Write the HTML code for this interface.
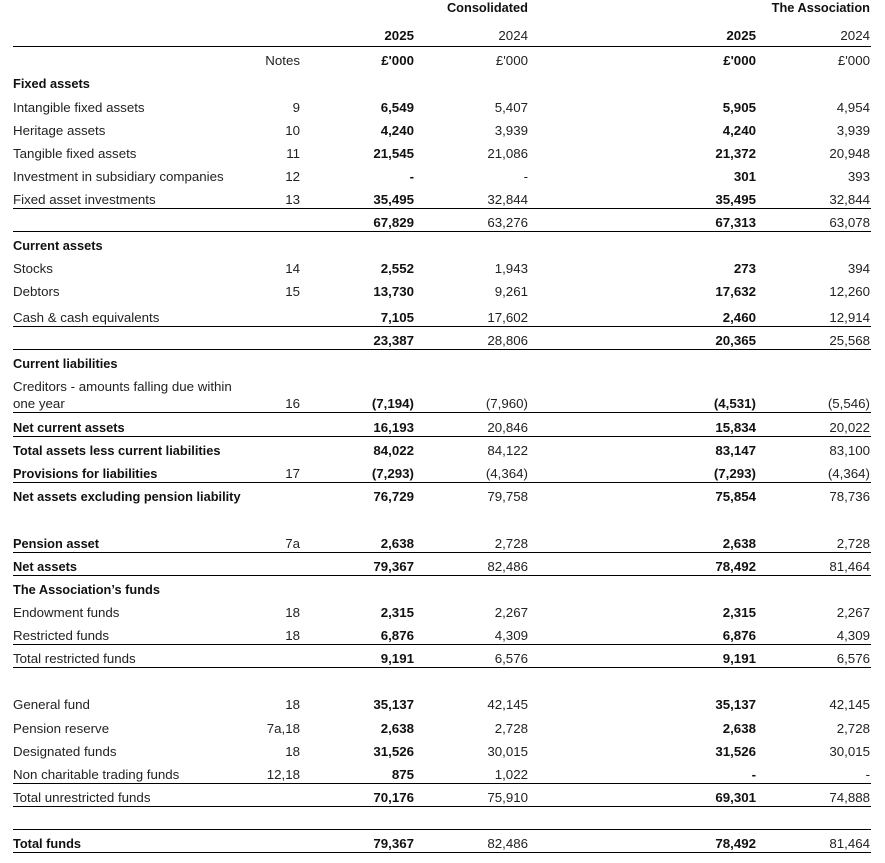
<!DOCTYPE html>
<html>
<head>
<meta charset="utf-8">
<style>
html,body{margin:0;padding:0;background:#fff;}
body{width:885px;height:863px;position:relative;overflow:hidden;font-family:"Liberation Sans",Arial,sans-serif;font-size:13.3px;color:#222;}
.r{position:absolute;left:0;width:885px;height:16px;line-height:16px;margin-top:1px;}
.r span{position:absolute;top:0;white-space:nowrap;}
.l{left:13px;}
.n{right:585px;}
.a{right:471px;font-weight:bold;color:#111;}
.b{right:357px;}
.c{right:129px;font-weight:bold;color:#111;}
.d{right:15px;}
.B{font-weight:bold;color:#111;font-size:12.8px;}
.h{position:absolute;left:13px;width:858px;height:0;border-top:1.2px solid #000;}
</style>
</head>
<body>
<div class="r" style="top:-1px"><span class="b B">Consolidated</span><span class="d B">The Association</span></div>
<div class="r" style="top:27px"><span class="a">2025</span><span class="b">2024</span><span class="c">2025</span><span class="d">2024</span></div>
<div class="h" style="top:46px"></div>
<div class="r" style="top:52px"><span class="n">Notes</span><span class="a">£'000</span><span class="b">£'000</span><span class="c">£'000</span><span class="d">£'000</span></div>
<div class="r" style="top:75px"><span class="l B">Fixed assets</span></div>
<div class="r" style="top:99px"><span class="l">Intangible fixed assets</span><span class="n">9</span><span class="a">6,549</span><span class="b">5,407</span><span class="c">5,905</span><span class="d">4,954</span></div>
<div class="r" style="top:122px"><span class="l">Heritage assets</span><span class="n">10</span><span class="a">4,240</span><span class="b">3,939</span><span class="c">4,240</span><span class="d">3,939</span></div>
<div class="r" style="top:145px"><span class="l">Tangible fixed assets</span><span class="n">11</span><span class="a">21,545</span><span class="b">21,086</span><span class="c">21,372</span><span class="d">20,948</span></div>
<div class="r" style="top:168px"><span class="l">Investment in subsidiary companies</span><span class="n">12</span><span class="a">-</span><span class="b">-</span><span class="c">301</span><span class="d">393</span></div>
<div class="r" style="top:191px"><span class="l">Fixed asset investments</span><span class="n">13</span><span class="a">35,495</span><span class="b">32,844</span><span class="c">35,495</span><span class="d">32,844</span></div>
<div class="h" style="top:208px"></div>
<div class="r" style="top:214px"><span class="a">67,829</span><span class="b">63,276</span><span class="c">67,313</span><span class="d">63,078</span></div>
<div class="h" style="top:231px"></div>
<div class="r" style="top:237px"><span class="l B">Current assets</span></div>
<div class="r" style="top:260px"><span class="l">Stocks</span><span class="n">14</span><span class="a">2,552</span><span class="b">1,943</span><span class="c">273</span><span class="d">394</span></div>
<div class="r" style="top:283px"><span class="l">Debtors</span><span class="n">15</span><span class="a">13,730</span><span class="b">9,261</span><span class="c">17,632</span><span class="d">12,260</span></div>
<div class="r" style="top:309px"><span class="l">Cash &amp; cash equivalents</span><span class="a">7,105</span><span class="b">17,602</span><span class="c">2,460</span><span class="d">12,914</span></div>
<div class="h" style="top:326px"></div>
<div class="r" style="top:332px"><span class="a">23,387</span><span class="b">28,806</span><span class="c">20,365</span><span class="d">25,568</span></div>
<div class="h" style="top:349px"></div>
<div class="r" style="top:355px"><span class="l B">Current liabilities</span></div>
<div class="r" style="top:378px"><span class="l">Creditors - amounts falling due within</span></div>
<div class="r" style="top:395px"><span class="l">one year</span><span class="n">16</span><span class="a">(7,194)</span><span class="b">(7,960)</span><span class="c">(4,531)</span><span class="d">(5,546)</span></div>
<div class="h" style="top:412px"></div>
<div class="r" style="top:419px"><span class="l B">Net current assets</span><span class="a">16,193</span><span class="b">20,846</span><span class="c">15,834</span><span class="d">20,022</span></div>
<div class="h" style="top:436px"></div>
<div class="r" style="top:442px"><span class="l B">Total assets less current liabilities</span><span class="a">84,022</span><span class="b">84,122</span><span class="c">83,147</span><span class="d">83,100</span></div>
<div class="r" style="top:465px"><span class="l B">Provisions for liabilities</span><span class="n">17</span><span class="a">(7,293)</span><span class="b">(4,364)</span><span class="c">(7,293)</span><span class="d">(4,364)</span></div>
<div class="h" style="top:482px"></div>
<div class="r" style="top:488px"><span class="l B">Net assets excluding pension liability</span><span class="a">76,729</span><span class="b">79,758</span><span class="c">75,854</span><span class="d">78,736</span></div>
<div class="r" style="top:535px"><span class="l B">Pension asset</span><span class="n">7a</span><span class="a">2,638</span><span class="b">2,728</span><span class="c">2,638</span><span class="d">2,728</span></div>
<div class="h" style="top:552px"></div>
<div class="r" style="top:558px"><span class="l B">Net assets</span><span class="a">79,367</span><span class="b">82,486</span><span class="c">78,492</span><span class="d">81,464</span></div>
<div class="h" style="top:575px"></div>
<div class="r" style="top:581px"><span class="l B">The Association’s funds</span></div>
<div class="r" style="top:604px"><span class="l">Endowment funds</span><span class="n">18</span><span class="a">2,315</span><span class="b">2,267</span><span class="c">2,315</span><span class="d">2,267</span></div>
<div class="r" style="top:627px"><span class="l">Restricted funds</span><span class="n">18</span><span class="a">6,876</span><span class="b">4,309</span><span class="c">6,876</span><span class="d">4,309</span></div>
<div class="h" style="top:644px"></div>
<div class="r" style="top:650px"><span class="l">Total restricted funds</span><span class="a">9,191</span><span class="b">6,576</span><span class="c">9,191</span><span class="d">6,576</span></div>
<div class="h" style="top:667px"></div>
<div class="r" style="top:696px"><span class="l">General fund</span><span class="n">18</span><span class="a">35,137</span><span class="b">42,145</span><span class="c">35,137</span><span class="d">42,145</span></div>
<div class="r" style="top:720px"><span class="l">Pension reserve</span><span class="n">7a,18</span><span class="a">2,638</span><span class="b">2,728</span><span class="c">2,638</span><span class="d">2,728</span></div>
<div class="r" style="top:743px"><span class="l">Designated funds</span><span class="n">18</span><span class="a">31,526</span><span class="b">30,015</span><span class="c">31,526</span><span class="d">30,015</span></div>
<div class="r" style="top:766px"><span class="l">Non charitable trading funds</span><span class="n">12,18</span><span class="a">875</span><span class="b">1,022</span><span class="c">-</span><span class="d">-</span></div>
<div class="h" style="top:783px"></div>
<div class="r" style="top:789px"><span class="l">Total unrestricted funds</span><span class="a">70,176</span><span class="b">75,910</span><span class="c">69,301</span><span class="d">74,888</span></div>
<div class="h" style="top:806px"></div>
<div class="h" style="top:829px"></div>
<div class="r" style="top:835px"><span class="l B">Total funds</span><span class="a">79,367</span><span class="b">82,486</span><span class="c">78,492</span><span class="d">81,464</span></div>
<div class="h" style="top:852px"></div>
</body>
</html>
